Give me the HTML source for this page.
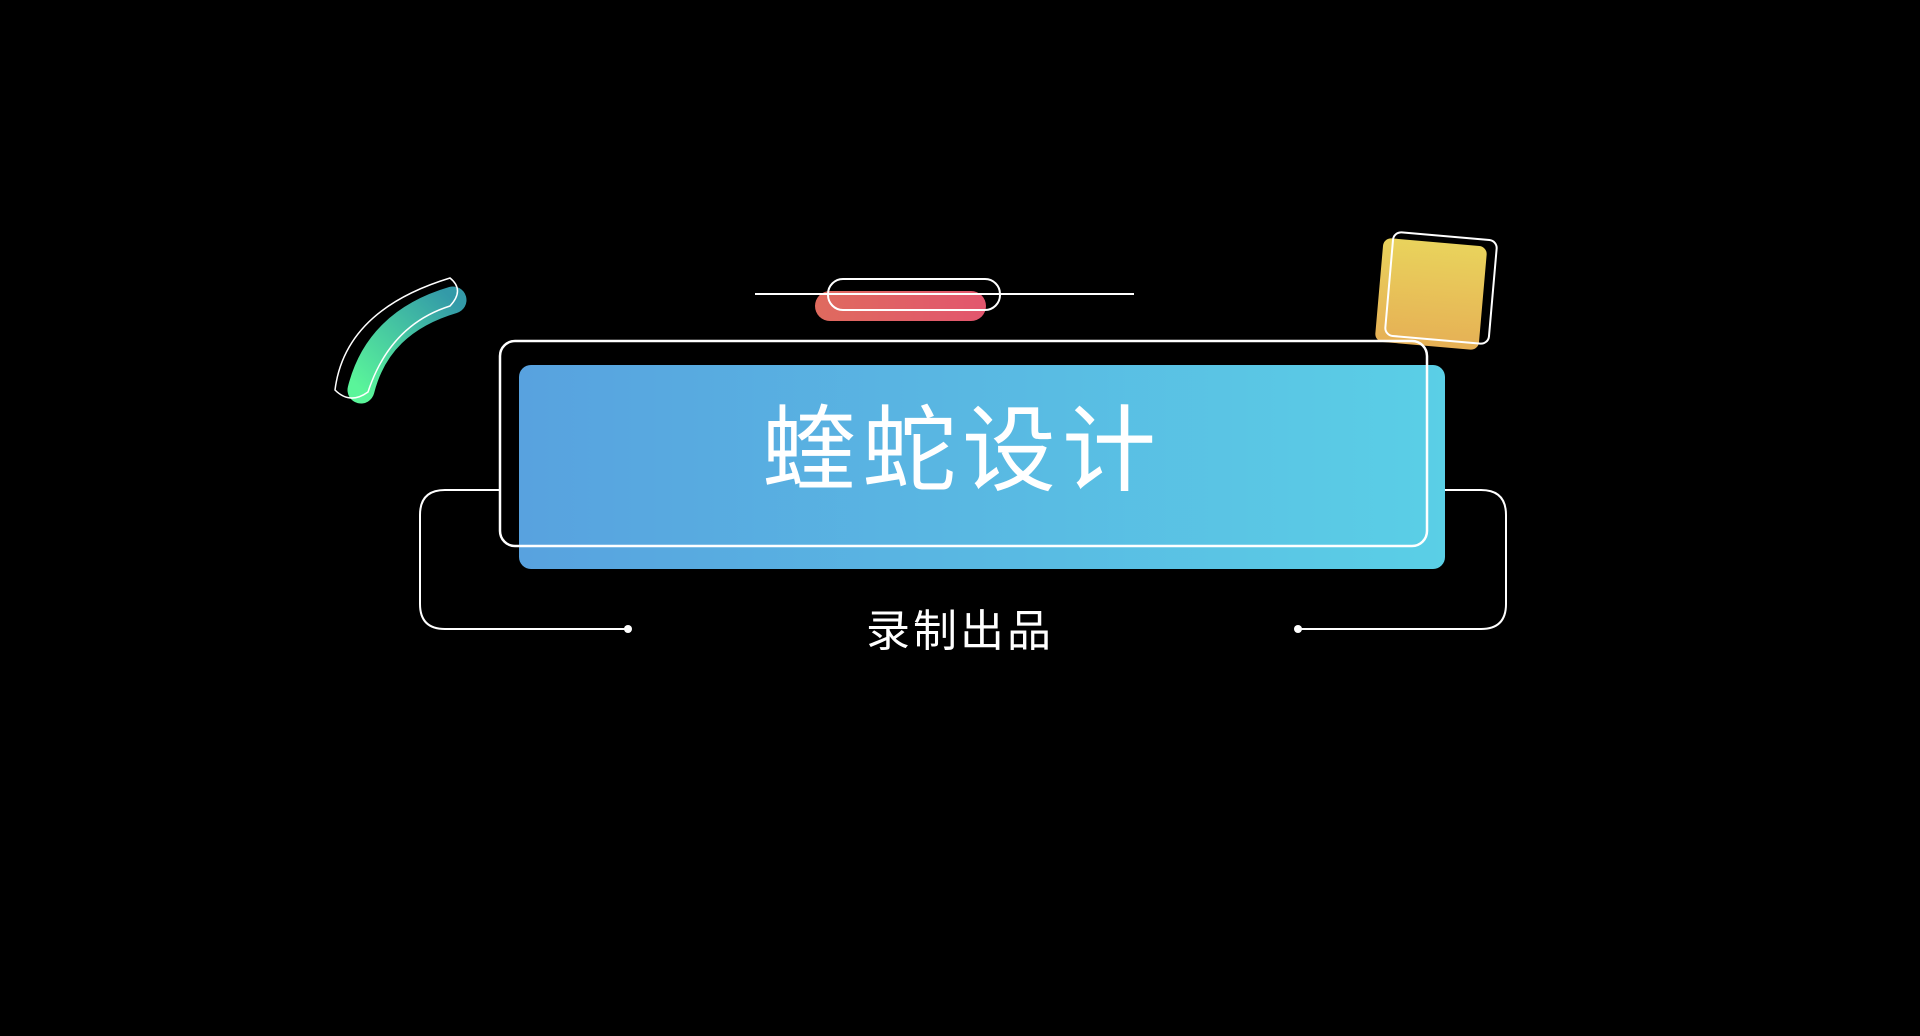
<!DOCTYPE html>
<html><head><meta charset="utf-8"><style>
html,body{margin:0;padding:0;background:#000;width:1920px;height:1036px;overflow:hidden}
</style></head><body>
<svg width="1920" height="1036" viewBox="0 0 1920 1036" xmlns="http://www.w3.org/2000/svg">
<defs>
<linearGradient id="blue" x1="0" x2="1" y1="0" y2="0"><stop offset="0" stop-color="#58a2df"/><stop offset="1" stop-color="#5acfe6"/></linearGradient>
<linearGradient id="red" x1="0" x2="1"><stop offset="0" stop-color="#df6a5e"/><stop offset="1" stop-color="#e2566e"/></linearGradient>
<linearGradient id="yel" x1="0" x2="0" y1="0" y2="1"><stop offset="0" stop-color="#e9d35c"/><stop offset="1" stop-color="#e6b055"/></linearGradient>
<linearGradient id="grn" x1="0" y1="1" x2="1" y2="0"><stop offset="0" stop-color="#5af59a"/><stop offset="1" stop-color="#339aa8"/></linearGradient>
</defs>
<!-- green arc -->
<path d="M361 390 Q378 322 453 300" fill="none" stroke="url(#grn)" stroke-width="27" stroke-linecap="round"/>
<path d="M335 390 Q345 310 450 278 Q465 290 450 306 Q390 325 368 392 Q350 405 335 390 Z" fill="none" stroke="#fff" stroke-width="1.5"/>
<!-- top line & pill -->
<rect x="815" y="291" width="171" height="30" rx="15" fill="url(#red)"/>
<line x1="755" y1="294" x2="1134" y2="294" stroke="#fff" stroke-width="2"/>
<rect x="828" y="279" width="172" height="31" rx="15" fill="none" stroke="#fff" stroke-width="2"/>
<!-- yellow square -->
<g transform="rotate(5 1431 294)"><rect x="1379" y="242" width="104" height="104" rx="8" fill="url(#yel)"/></g>
<g transform="rotate(5 1441 288)"><rect x="1389" y="236" width="104" height="104" rx="8" fill="none" stroke="#fff" stroke-width="2"/></g>
<!-- brackets -->
<path d="M500 490 H445 Q420 490 420 515 V604 Q420 629 445 629 H628" fill="none" stroke="#fff" stroke-width="2"/>
<circle cx="628" cy="629" r="4" fill="#fff"/>
<path d="M1427 490 H1481 Q1506 490 1506 515 V604 Q1506 629 1481 629 H1298" fill="none" stroke="#fff" stroke-width="2"/>
<circle cx="1298" cy="629" r="4" fill="#fff"/>
<!-- main -->
<rect x="519" y="365" width="926" height="204" rx="12" fill="url(#blue)"/>
<rect x="500" y="341" width="927" height="205" rx="15" fill="none" stroke="#fff" stroke-width="2.5"/>
<text x="962" y="483" text-anchor="middle" font-family="Liberation Sans, Noto Sans CJK SC, sans-serif" font-size="94" fill="#fff" letter-spacing="6">蝰蛇设计</text>
<text x="960" y="646" text-anchor="middle" font-family="Liberation Sans, Noto Sans CJK SC, sans-serif" font-size="44" fill="#fff" letter-spacing="3">录制出品</text>
</svg>
</body></html>
